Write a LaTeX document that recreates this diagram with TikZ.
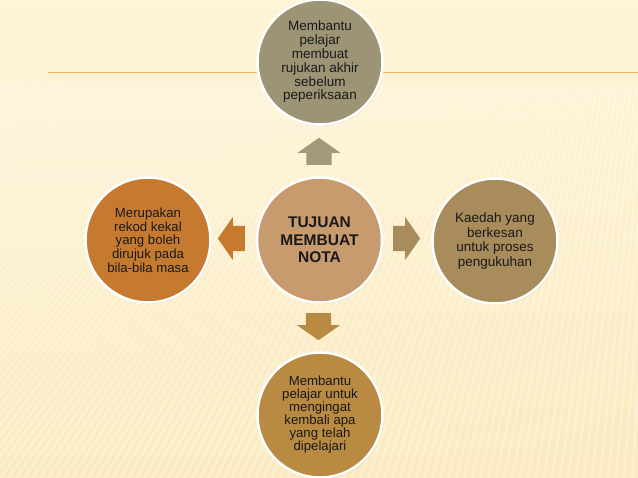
\documentclass[tikz,border=0pt]{standalone}
\usepackage{fontspec}
\setmainfont{Liberation Sans}
\usetikzlibrary{shapes.arrows, shadows}

\definecolor{bgtop}{HTML}{FEF4D6}
\definecolor{bgbot}{HTML}{FBEAC0}
\definecolor{rulecol}{HTML}{F2B45C}
\definecolor{topcol}{HTML}{9D9475}
\definecolor{midcol}{HTML}{C89B6E}
\definecolor{leftcol}{HTML}{C67A30}
\definecolor{rightcol}{HTML}{A88C5C}
\definecolor{botcol}{HTML}{B98A41}

\begin{document}
\begin{tikzpicture}[x=1pt, y=-1pt,
  bubble/.style={circle, draw=white, line width=2.5pt, minimum size=125pt, inner sep=0pt,
    align=center, text=black!90, drop shadow={opacity=0.2, shadow xshift=1pt, shadow yshift=-1.5pt}},
  blockarrow/.style={single arrow, draw=none, anchor=tail, minimum height=27pt, inner sep=0pt,
    text height=12.5pt, text depth=12.5pt, single arrow head extend=9pt, single arrow tip angle=110}]

% background
\useasboundingbox (0,0) rectangle (638,478);
\shade[top color=bgtop, bottom color=bgbot] (0,0) rectangle (638,478);
\foreach \s in {-800,-792,...,640} {
  \pgfmathsetmacro\e{\s+0.41*(700-\s)}
  \draw[white, opacity=0.25, line width=3pt] (\s,478) -- (\e,80);
}
\shade[top color=bgtop, bottom color=bgtop, middle color=bgtop, opacity=0.6] (0,0) rectangle (638,85);
\draw[rulecol, line width=1.5pt] (48,72.5) -- (638,72.5);

% circles
\node[bubble, fill=midcol, font=\bfseries\fontsize{15.5}{17.5}\selectfont] (goal) at (319.5,240) {TUJUAN\\MEMBUAT\\NOTA};
\node[bubble, fill=topcol, font=\fontsize{13.5}{13.8}\selectfont] (review) at (320,62)
  {Membantu\\pelajar\\membuat\\rujukan akhir\\sebelum\\peperiksaan};
\node[bubble, fill=leftcol, font=\fontsize{13.2}{13.7}\selectfont] (record) at (148,240)
  {Merupakan\\rekod kekal\\yang boleh\\dirujuk pada\\bila-bila masa};
\node[bubble, fill=rightcol, font=\fontsize{13.5}{14.4}\selectfont] (method) at (495,241)
  {Kaedah yang\\berkesan\\untuk proses\\pengukuhan};
\node[bubble, fill=botcol, font=\fontsize{13.2}{13}\selectfont] (recall) at (320,415)
  {Membantu\\pelajar untuk\\mengingat\\kembali apa\\yang telah\\dipelajari};

% arrows
\node[blockarrow, fill=topcol!95!white, rotate=90] (upArrow) at (319,165) {};
\node[blockarrow, fill=leftcol, rotate=180] (leftArrow) at (245,238.5) {};
\node[blockarrow, fill=rightcol, rotate=0] (rightArrow) at (393,238.5) {};
\node[blockarrow, fill=botcol, rotate=-90] (downArrow) at (318.5,313) {};
\end{tikzpicture}
\end{document}
